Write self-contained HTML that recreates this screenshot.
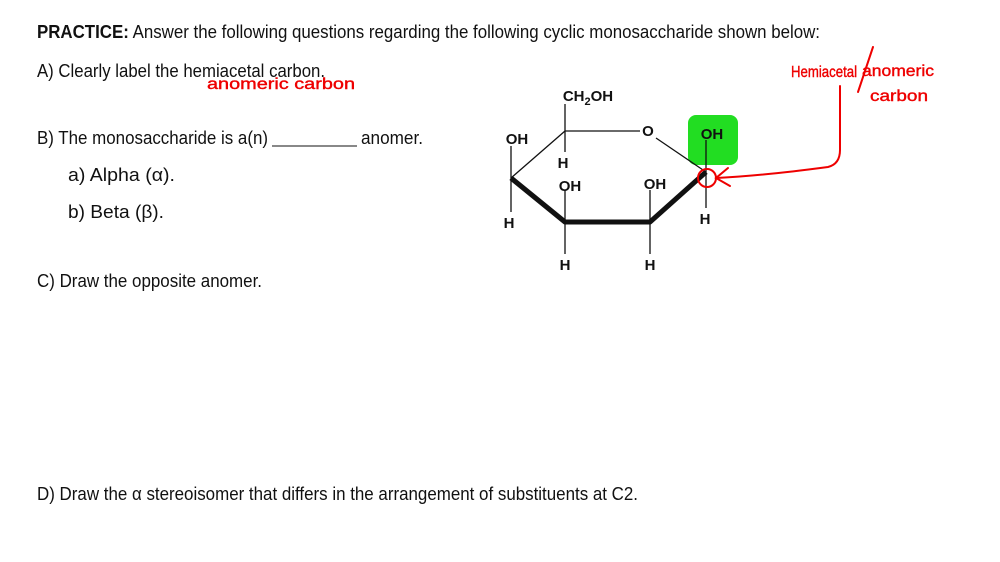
<!DOCTYPE html>
<html><head><style>
html,body{margin:0;padding:0;background:#fff;}
svg{display:block;}
.t{font-family:"Liberation Sans",sans-serif;font-size:18px;fill:#111;}
.c{font-family:"Liberation Sans",sans-serif;font-size:15px;font-weight:bold;fill:#111;text-anchor:middle;}
.r{font-family:"Liberation Sans",sans-serif;font-size:16px;fill:#e00;stroke:#e00;stroke-width:0.4;}
</style></head><body>
<svg width="1000" height="562" viewBox="0 0 1000 562" xmlns="http://www.w3.org/2000/svg">
<text class="t" x="37" y="38" textLength="783" lengthAdjust="spacingAndGlyphs"><tspan font-weight="bold">PRACTICE:</tspan> Answer the following questions regarding the following cyclic monosaccharide shown below:</text>
<text class="t" x="37" y="77" textLength="288" lengthAdjust="spacingAndGlyphs">A) Clearly label the hemiacetal carbon.</text>
<text class="r" x="207" y="89" textLength="148" lengthAdjust="spacingAndGlyphs">anomeric carbon</text>
<text class="t" x="37" y="144" textLength="231" lengthAdjust="spacingAndGlyphs">B) The monosaccharide is a(n)</text>
<line x1="272" y1="146" x2="357" y2="146" stroke="#111" stroke-width="1"/>
<text class="t" x="361" y="144" textLength="62" lengthAdjust="spacingAndGlyphs">anomer.</text>
<text class="t" x="68" y="181" textLength="107" lengthAdjust="spacingAndGlyphs" font-size="17">a)   Alpha (α).</text>
<text class="t" x="68" y="218" textLength="96" lengthAdjust="spacingAndGlyphs" font-size="17">b)   Beta (β).</text>
<text class="t" x="37" y="287" textLength="225" lengthAdjust="spacingAndGlyphs">C) Draw the opposite anomer.</text>
<text class="t" x="37" y="500" textLength="601" lengthAdjust="spacingAndGlyphs">D) Draw the α stereoisomer that differs in the arrangement of substituents at C2.</text>

<rect x="688" y="115" width="50" height="50" rx="8" fill="#22dd22"/>
<g stroke="#111" fill="none">
<line x1="511" y1="178" x2="565" y2="131" stroke-width="1.3"/>
<line x1="565" y1="131" x2="640" y2="131" stroke-width="1.3"/>
<line x1="656" y1="138" x2="706" y2="172" stroke-width="1.3"/>
<path d="M511 178 L565 222 L650 222 L706 172" stroke-width="5" stroke-linejoin="round"/>
<line x1="565" y1="104" x2="565" y2="131" stroke-width="1.3"/>
<line x1="565" y1="131" x2="565" y2="152" stroke-width="1.3"/>
<line x1="511" y1="146" x2="511" y2="212" stroke-width="1.3"/>
<line x1="565" y1="190" x2="565" y2="254" stroke-width="1.3"/>
<line x1="650" y1="190" x2="650" y2="254" stroke-width="1.3"/>
<line x1="706" y1="140" x2="706" y2="208" stroke-width="1.3"/>
</g>
<text class="c" x="588" y="101">CH<tspan font-size="11" dy="4">2</tspan><tspan dy="-4">OH</tspan></text>
<text class="c" x="648" y="136">O</text>
<text class="c" x="517" y="144">OH</text>
<text class="c" x="509" y="228">H</text>
<text class="c" x="563" y="168">H</text>
<text class="c" x="570" y="191">OH</text>
<text class="c" x="565" y="270">H</text>
<text class="c" x="655" y="189">OH</text>
<text class="c" x="650" y="270">H</text>
<text class="c" x="712" y="139">OH</text>
<text class="c" x="705" y="224">H</text>

<g stroke="#e00" fill="none" stroke-width="2" stroke-linecap="round">
<ellipse cx="707" cy="178" rx="9" ry="9"/>
<path d="M728 168 L716 178 L730 186"/>
<path d="M716 178 Q760 176 828 167 Q840 164 840 150 L840 86"/>
<line x1="858" y1="92" x2="873" y2="47"/>
</g>
<text class="r" x="791" y="77" textLength="66" lengthAdjust="spacingAndGlyphs">Hemiacetal</text>
<text class="r" x="862" y="76" textLength="72" lengthAdjust="spacingAndGlyphs">anomeric</text>
<text class="r" x="870" y="101" textLength="58" lengthAdjust="spacingAndGlyphs">carbon</text>
</svg>
</body></html>
